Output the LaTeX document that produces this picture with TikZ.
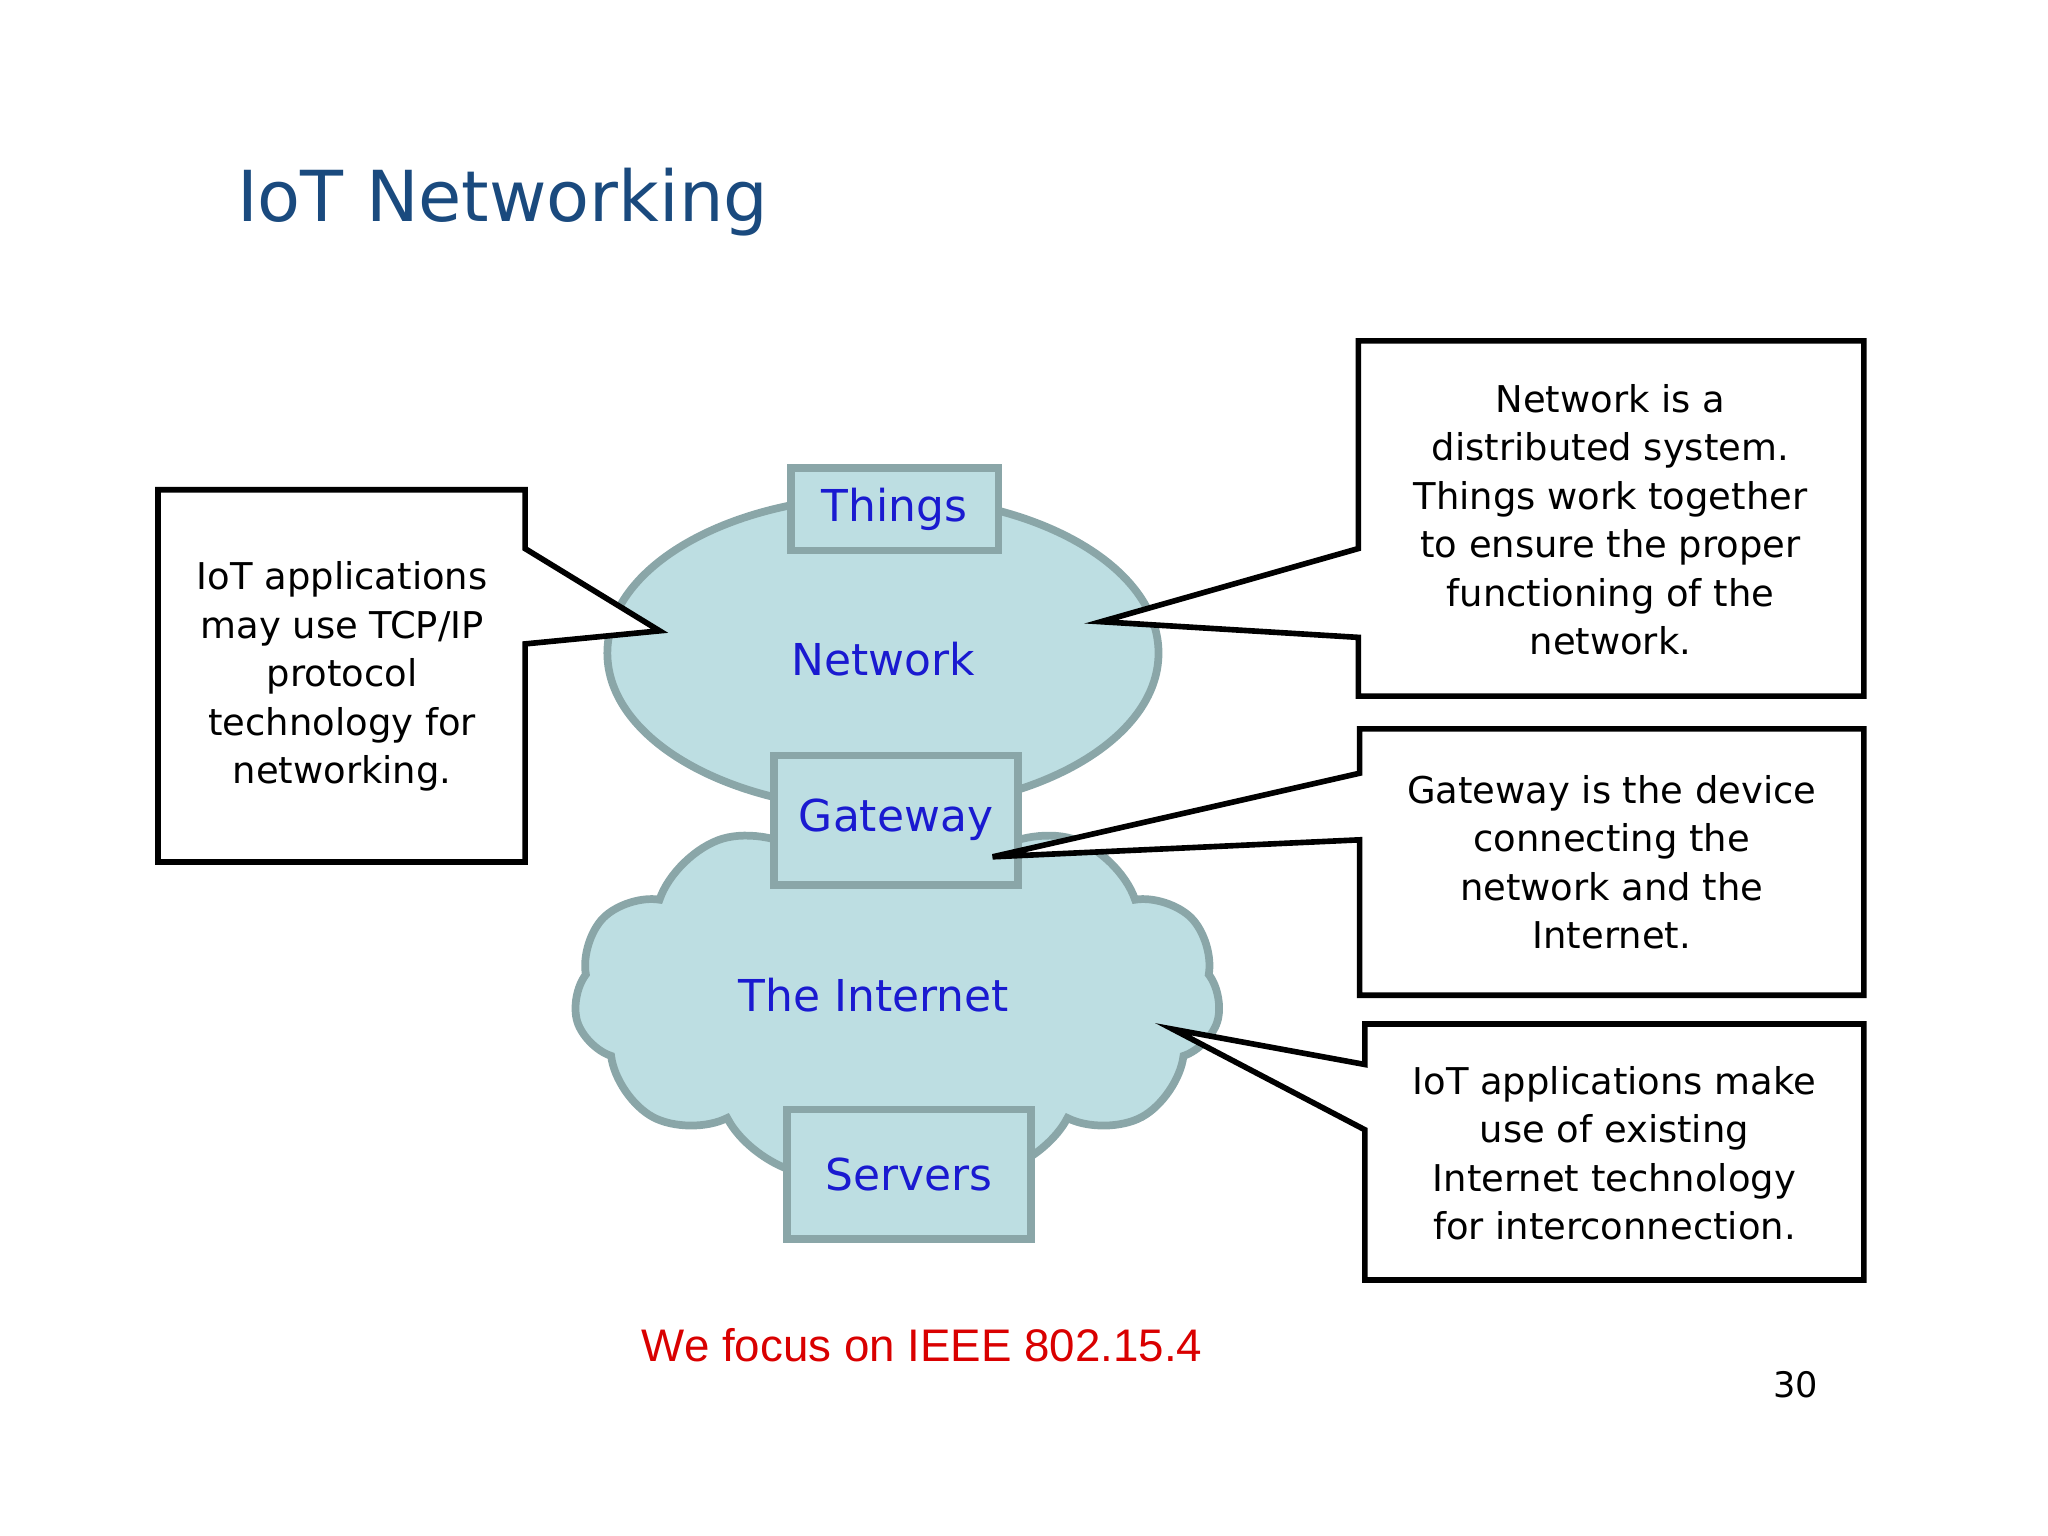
\documentclass[tikz,border=0pt]{standalone}
\usepackage{fontspec}
\setmainfont{DejaVu Sans}
\newfontfamily\arialf{Liberation Sans}
\usetikzlibrary{shapes.symbols,shapes.geometric}
\definecolor{lblue}{HTML}{BDDEE2}
\definecolor{gborder}{HTML}{8AA6A8}
\definecolor{ttl}{HTML}{1A4A7E}
\definecolor{lbl}{HTML}{1A1AD0}
\begin{document}
\begin{tikzpicture}[x=0.01306cm,y=-0.01306cm,
  shp/.style={fill=lblue,draw=gborder,line width=2.2pt},
  box/.style={shp,rectangle,font=\fontsize{12.5}{15}\selectfont,text=lbl},
  call/.style={fill=white,draw=black,line width=1.6pt,line join=miter},
  ctext/.style={align=center,font=\fontsize{10.5}{13.8}\selectfont}]
\useasboundingbox (0,0) rectangle (1568,1176);
\node[anchor=west,text=ttl,font=\fontsize{20}{24}\selectfont] (title) at (172,155) {IoT Networking};
\node[shp,cloud,cloud puffs=11,cloud puff arc=110,aspect=1.8,minimum width=495*0.01306cm,minimum height=285*0.01306cm] (cloud) at (687,762) {};
\node[shp,ellipse,minimum width=422*0.01306cm,minimum height=240*0.01306cm] (net) at (676,500) {};
\node[text=lbl,font=\fontsize{12.5}{15}\selectfont] (netl) at (676,505) {Network};
\node[text=lbl,font=\fontsize{12.5}{15}\selectfont] (inet) at (669,762) {The Internet};
\node[box,minimum width=159*0.01306cm,minimum height=63*0.01306cm] (things) at (685,390) {Things};
\node[box,minimum width=187*0.01306cm,minimum height=99*0.01306cm] (gw) at (686,628) {Gateway};
\node[box,minimum width=187*0.01306cm,minimum height=99*0.01306cm] (srv) at (696,899) {Servers};
\draw[call] (121,375)--(402,375)--(402,420)--(505,483)--(402,493)--(402,660)--(121,660)--cycle;
\draw[call] (1040,261)--(1427,261)--(1427,533)--(1040,533)--(1040,488)--(843,476)--(1040,420)--cycle;
\draw[call] (1041,558)--(1427,558)--(1427,762)--(1041,762)--(1041,643)--(760,656)--(1041,592)--cycle;
\draw[call] (1045,784)--(1427,784)--(1427,980)--(1045,980)--(1045,865)--(898,788)--(1045,815)--cycle;
\node[ctext] (t1) at (262,518) {IoT applications\\may use TCP/IP\\protocol\\technology for\\networking.};
\node[ctext] (t2) at (1233,398) {Network is a\\distributed system.\\Things work together\\to ensure the proper\\functioning of the\\network.};
\node[ctext] (t3) at (1234,660) {Gateway is the device\\connecting the\\network and the\\Internet.};
\node[ctext] (t4) at (1236,883) {IoT applications make\\use of existing\\Internet technology\\for interconnection.};
\node[text=red!85!black,font=\arialf\fontsize{13}{15}\selectfont] (focus) at (706,1030) {We focus on IEEE 802.15.4};
\node[font=\fontsize{10}{12}\selectfont] (pg) at (1375,1060) {30};
\end{tikzpicture}
\end{document}
